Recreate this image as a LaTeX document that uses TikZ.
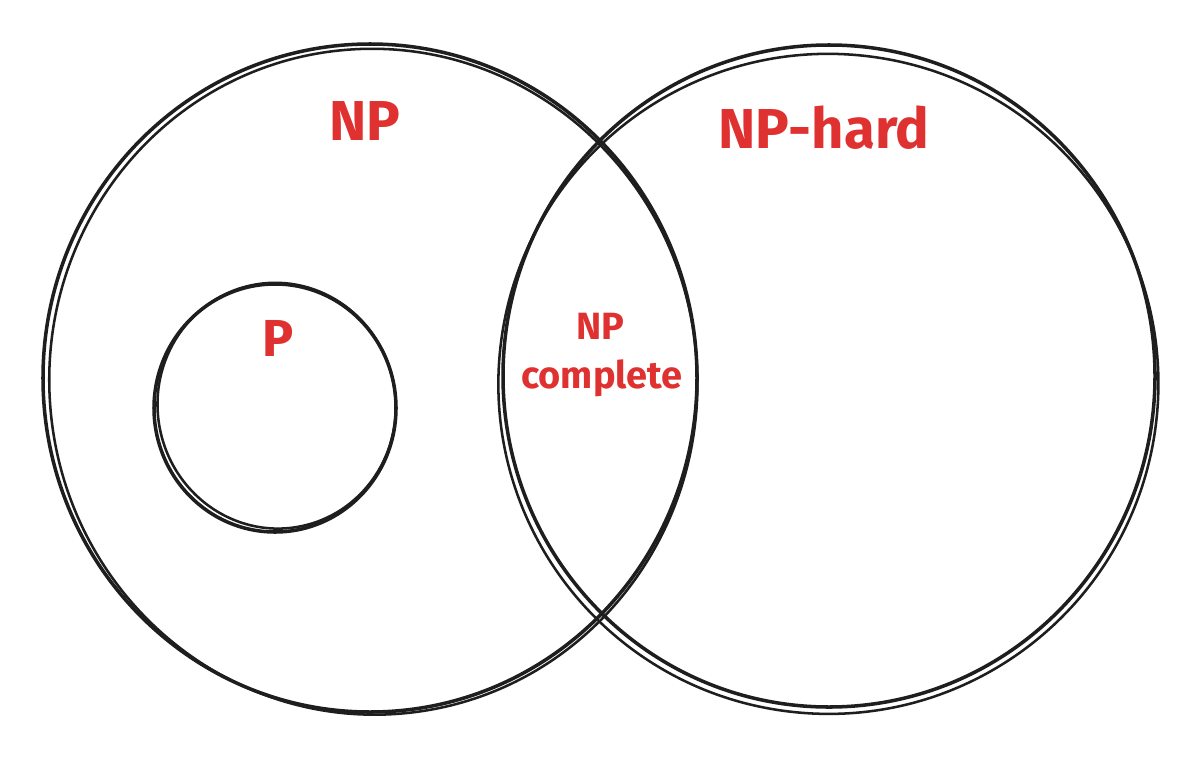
\documentclass[tikz,border=0pt]{standalone}
\usepackage{fontspec}
\setmainfont{Fira Sans}
\definecolor{exred}{HTML}{E03131}
\definecolor{exblack}{HTML}{1E1E1E}
\begin{document}
\begin{tikzpicture}[x=0.025cm,y=-0.025cm,
  sketch/.style={draw=exblack,line width=2.5pt},
  sketchthin/.style={draw=exblack,line width=1.8pt},
  lbl/.style={text=exred,inner sep=0pt,anchor=center}]
\useasboundingbox[fill=white] (0,0) rectangle (1200,756);
% left big circle (NP)
\draw[sketch] (370,378) ellipse [x radius=327,y radius=334];
\draw[sketchthin,rotate around={5:(370,378)}] (373,382) ellipse [x radius=324,y radius=333];
% right big circle (NP-hard)
\draw[sketch] (829,376) ellipse [x radius=326,y radius=331];
\draw[sketchthin,rotate around={-6:(830,378)}] (829,384) ellipse [x radius=330,y radius=330];
% small circle (P)
\draw[sketch] (275,408) ellipse [x radius=121,y radius=124];
\draw[sketchthin,rotate around={10:(275,408)}] (277,406) ellipse [x radius=119,y radius=123];
% labels
\node[lbl,font=\bfseries\fontsize{40}{44}\selectfont] (np) at (365,121) {NP};
\node[lbl,font=\bfseries\fontsize{40}{44}\selectfont] (nphard) at (824,128) {NP-hard};
\node[lbl,font=\bfseries\fontsize{37}{40}\selectfont] (p) at (278,338) {P};
\node[lbl,font=\bfseries\fontsize{27}{30}\selectfont] (npc1) at (600,326) {NP};
\node[lbl,font=\bfseries\fontsize{27}{30}\selectfont] (npc2) at (602,378) {complete};
\end{tikzpicture}
\end{document}
